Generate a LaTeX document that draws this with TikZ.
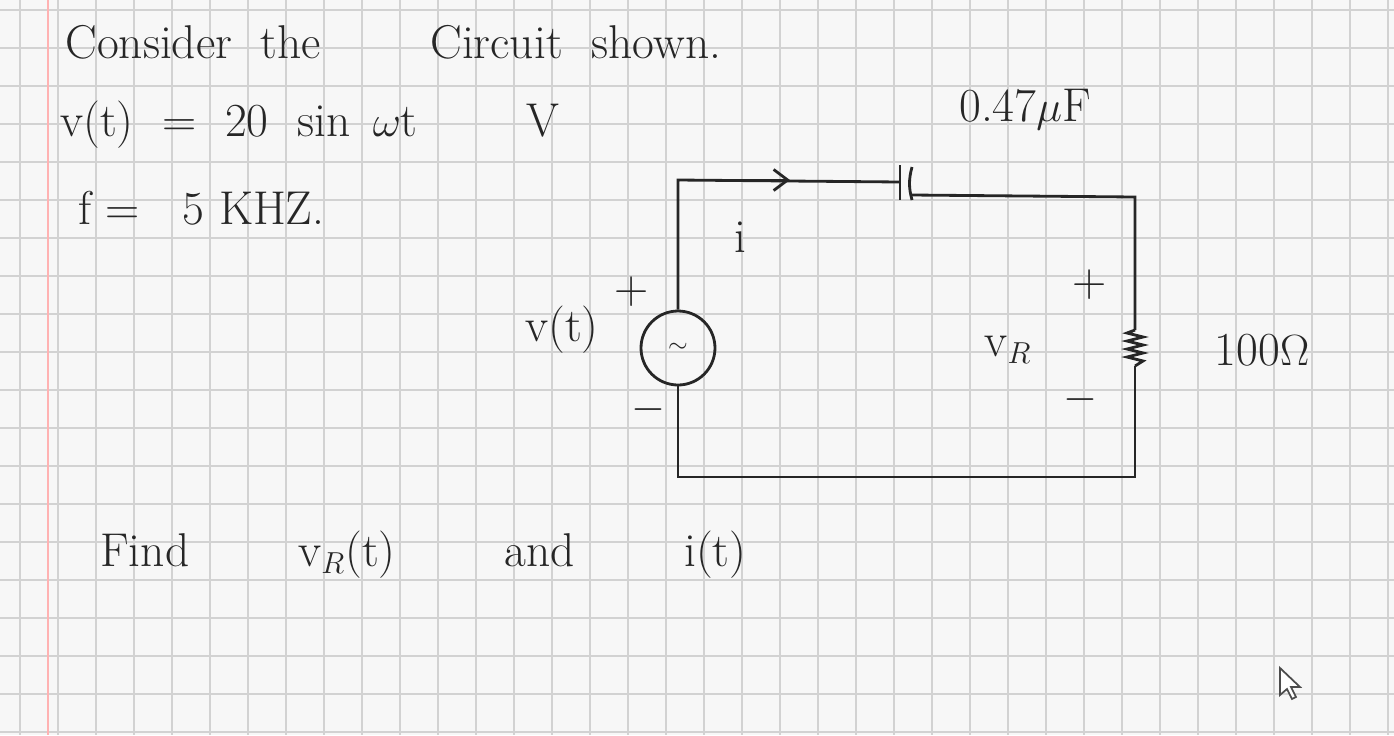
\documentclass[tikz,border=0pt]{standalone}
\usetikzlibrary{arrows.meta}
\begin{document}
\begin{tikzpicture}[x=0.02cm,y=-0.02cm,
  wire/.style={line width=1.6pt,black!85},
  hw/.style={font=\fontsize{27}{32}\selectfont,text=black!85,inner sep=0pt},
  grid/.style={draw=gray!35,line width=0.8pt}]
\fill[gray!6] (0,0) rectangle (1394,735);
\useasboundingbox (0,0) rectangle (1394,735);
\foreach \x in {20,58,...,1394} \draw[grid] (\x,0) -- (\x,735);
\foreach \y in {10,48,...,735} \draw[grid] (0,\y) -- (1394,\y);
\draw[red!30,line width=0.8pt] (48,0) -- (48,735);
% texts
\node[hw,anchor=west] (t1) at (65,42) {Consider \ the \qquad Circuit \ shown.};
\node[hw,anchor=west] (t2) at (60,125) {v(t) \ = \ 20 \ sin \,$\omega$t \qquad V};
\node[hw,anchor=west] (t3) at (78,208) {f = \ \ 5 KHZ.};
\node[hw] (cap) at (1025,110) {0.47$\mu$F};
\node[hw] (ilab) at (740,237) {i};
\node[hw] (vp) at (632,292) {+};
\node[hw] (vt) at (562,330) {v(t)};
\node[hw] (vm) at (648,410) {$-$};
\node[hw] (rp) at (1090,285) {+};
\node[hw] (vr) at (1008,350) {v$_R$};
\node[hw] (rm) at (1080,400) {$-$};
\node[hw] (rlab) at (1262,350) {100$\Omega$};
\node[hw,anchor=west] (f) at (100,555) {Find \qquad v$_R$(t) \qquad and \qquad i(t)};
% circuit
\node[draw,wire,circle,minimum size=74*0.02cm,inner sep=0pt,font=\Large] (src) at (678,348) {$\sim$};
\coordinate (tl) at (678,180);
\coordinate (c1) at (900,182);
\coordinate (c2) at (912,195);
\coordinate (tr) at (1135,197);
\coordinate (r1) at (1135,330);
\coordinate (r2) at (1135,366);
\coordinate (br) at (1135,477);
\coordinate (bl) at (678,477);
\draw[wire] (src.north) -- (tl) -- (c1);
\draw[wire,-{Straight Barb[length=8pt,width=12pt]}] (tl) -- (790,180);
\draw[wire] (900,165) -- (900,200);
\draw[wire] (912,167) to[bend right=15] (912,200);
\draw[wire] (c2) -- (tr) -- (r1);
\draw[wire] (r1) -- (1127,333) -- (1143,337) -- (1127,341) -- (1143,345) -- (1127,349) -- (1143,353) -- (1127,357) -- (1143,361) -- (r2);
\draw[wire] (r2) -- (br) -- (bl) -- (src.south);
% cursor
\draw[black!70,line width=1pt,fill=white] (1280,668) -- (1280,695) -- (1287,689) -- (1292,699) -- (1296,697) -- (1291,687) -- (1300,687) -- cycle;
\end{tikzpicture}
\end{document}
